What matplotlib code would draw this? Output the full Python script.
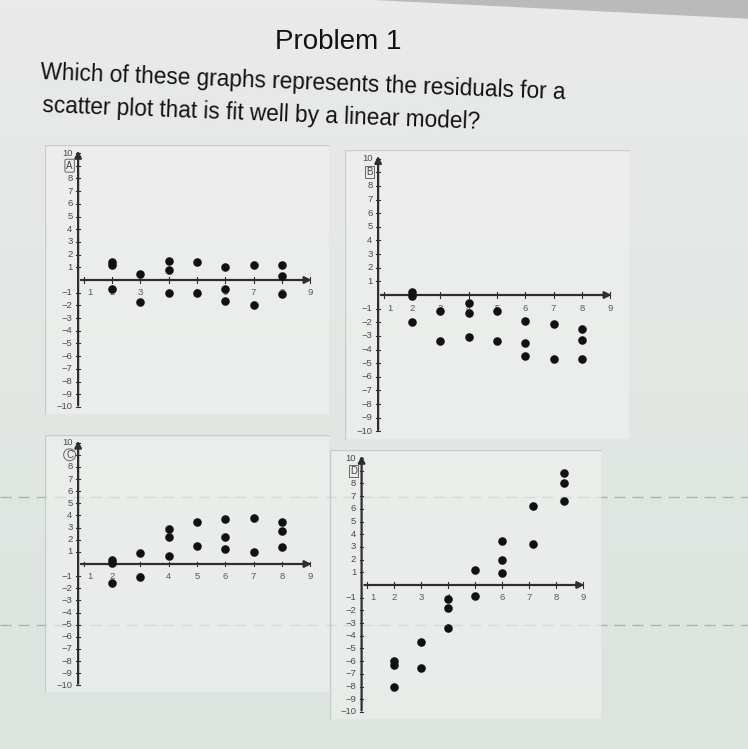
import numpy as np
import matplotlib
matplotlib.use("Agg")
import matplotlib.pyplot as plt
from matplotlib.patches import Rectangle

plt.rcParams['font.family'] = ['Liberation Sans', 'DejaVu Sans']

W, H = 748, 749

# residual data: (x, residual)
a_x = [2, 2, 2, 3, 3, 4, 4, 4, 5, 5, 6, 6, 6, 7, 7, 8, 8, 8]
a_y = [1.4, 1.2, -0.7, 0.5, -1.7, 1.5, 0.8, -1.0, 1.4, -1.0, 1.05, -0.7, -1.65, 1.2, -2.0, 1.2, 0.35, -1.1]

b_x = [2, 2, 2, 3, 3, 4, 4, 4, 5, 5, 6, 6, 6, 7, 7, 8, 8, 8]
b_y = [0.2, -0.1, -2.0, -1.2, -3.4, -0.6, -1.3, -3.1, -1.2, -3.4, -1.9, -3.5, -4.5, -2.1, -4.7, -2.5, -3.3, -4.7]

c_x = [2, 2, 2, 3, 3, 4, 4, 4, 5, 5, 6, 6, 6, 7, 7, 8, 8, 8]
c_y = [0.3, 0.1, -1.6, 0.9, -1.1, 2.9, 2.25, 0.65, 3.5, 1.5, 3.7, 2.2, 1.2, 3.8, 1.0, 3.45, 2.7, 1.4]

d_x = [2, 2, 2, 3, 3, 4, 4, 4, 5, 5, 6, 6, 6, 7.15, 7.15, 8.3, 8.3, 8.3]
d_y = [-6.0, -6.3, -8.0, -4.5, -6.5, -1.1, -1.8, -3.4, 1.2, -0.85, 3.5, 1.95, 0.95, 6.2, 3.25, 8.8, 8.0, 6.6]

panel_letters = ['A', 'B', 'C', 'D']
letter_boxes = ['round,pad=0.15', 'square,pad=0.1', 'circle,pad=0.1', 'square,pad=0.1']
y_ticks = [v for v in range(-10, 11) if v != 0]
x_ticks = list(range(1, 10))

# panel boxes in pixels (left, top, width, height)
boxes = [(45, 145, 285, 270), (345, 150, 285, 290), (45, 435, 285, 258), (330, 450, 272, 270)]

fig = plt.figure(figsize=(W / 100, H / 100), dpi=100)

# photo background: pale grey on top, slightly green at the bottom
bg = fig.add_axes([0, 0, 1, 1])
grad = np.linspace(0, 1, 256)[:, None, None]
top_c = np.array([0.915, 0.918, 0.915])
bot_c = np.array([0.86, 0.895, 0.875])
bg.imshow(top_c * (1 - grad) + bot_c * grad, aspect='auto', extent=[0, 1, 0, 1])
bg.add_patch(plt.Polygon([[0.5, 1], [1, 1], [1, 0.975], [0.7, 0.99]], color='#b9bab9', lw=0))
for yy in [497, 625]:
    bg.plot([0, 1], [1 - yy / H] * 2, color='#9fa7a2', lw=1, ls=(0, (8, 5)), alpha=0.8)
bg.set_xlim(0, 1)
bg.set_ylim(0, 1)
bg.axis('off')

fig.text(338 / W, 1 - 42 / H, 'Problem 1', fontsize=20, ha='center', va='center', color='#111111')
fig.text(40 / W, 1 - 73 / H, 'Which of these graphs represents the residuals for a',
         fontsize=16.3, ha='left', va='center', rotation=-2.2, rotation_mode='anchor', color='#111111')
fig.text(42 / W, 1 - 106 / H, 'scatter plot that is fit well by a linear model?',
         fontsize=16.3, ha='left', va='center', rotation=-2.2, rotation_mode='anchor', color='#111111')

series = [(a_x, a_y), (b_x, b_y), (c_x, c_y), (d_x, d_y)]
axis_col = '#2e2e2e'
x0 = 0.8  # where the vertical axis sits

for (left, top, w, h), (xs, ys), letter, bstyle in zip(boxes, series, panel_letters, letter_boxes):
    ax = fig.add_axes([left / W, 1 - (top + h) / H, w / W, h / H])
    ax.set_xlim(-0.37, 9.7)
    ax.set_ylim(-10.63, 10.63)
    ax.axis('off')
    ax.add_patch(Rectangle((0, 0), 1, 1, transform=ax.transAxes, facecolor='#f1f2f1',
                           edgecolor='#b5b8b6', lw=1, alpha=0.6, zorder=0))

    # axes with arrows
    ax.annotate('', xy=(x0, 10.4), xytext=(x0, -10.1),
                arrowprops=dict(arrowstyle='-|>', color=axis_col, lw=1.6, mutation_scale=10))
    ax.annotate('', xy=(9.15, 0), xytext=(x0, 0),
                arrowprops=dict(arrowstyle='-|>', color=axis_col, lw=1.6, mutation_scale=10))

    for v in y_ticks:
        ax.plot([x0 - 0.07, x0 + 0.07], [v, v], color=axis_col, lw=0.8)
        if v == 9:
            ax.text(x0 - 0.3, v, letter, fontsize=7, ha='center', va='center', color='#444',
                    bbox=dict(boxstyle=bstyle, fc='none', ec='#666', lw=0.7))
        else:
            ax.text(x0 - 0.2, v, str(v).replace('-', '\u2212'), fontsize=6.8,
                    ha='right', va='center', color='#4a4a4a')
    for v in x_ticks:
        ax.plot([v, v], [-0.2, 0.2], color=axis_col, lw=0.8)
        ax.text(v + (0.2 if v == 1 else 0), -1.0, str(v), fontsize=6.8, ha='center', va='center', color='#5a5a5a')

    ax.scatter(xs, ys, s=38, color='#111111', zorder=5, lw=0)

fig.savefig('out.png', dpi=100)
